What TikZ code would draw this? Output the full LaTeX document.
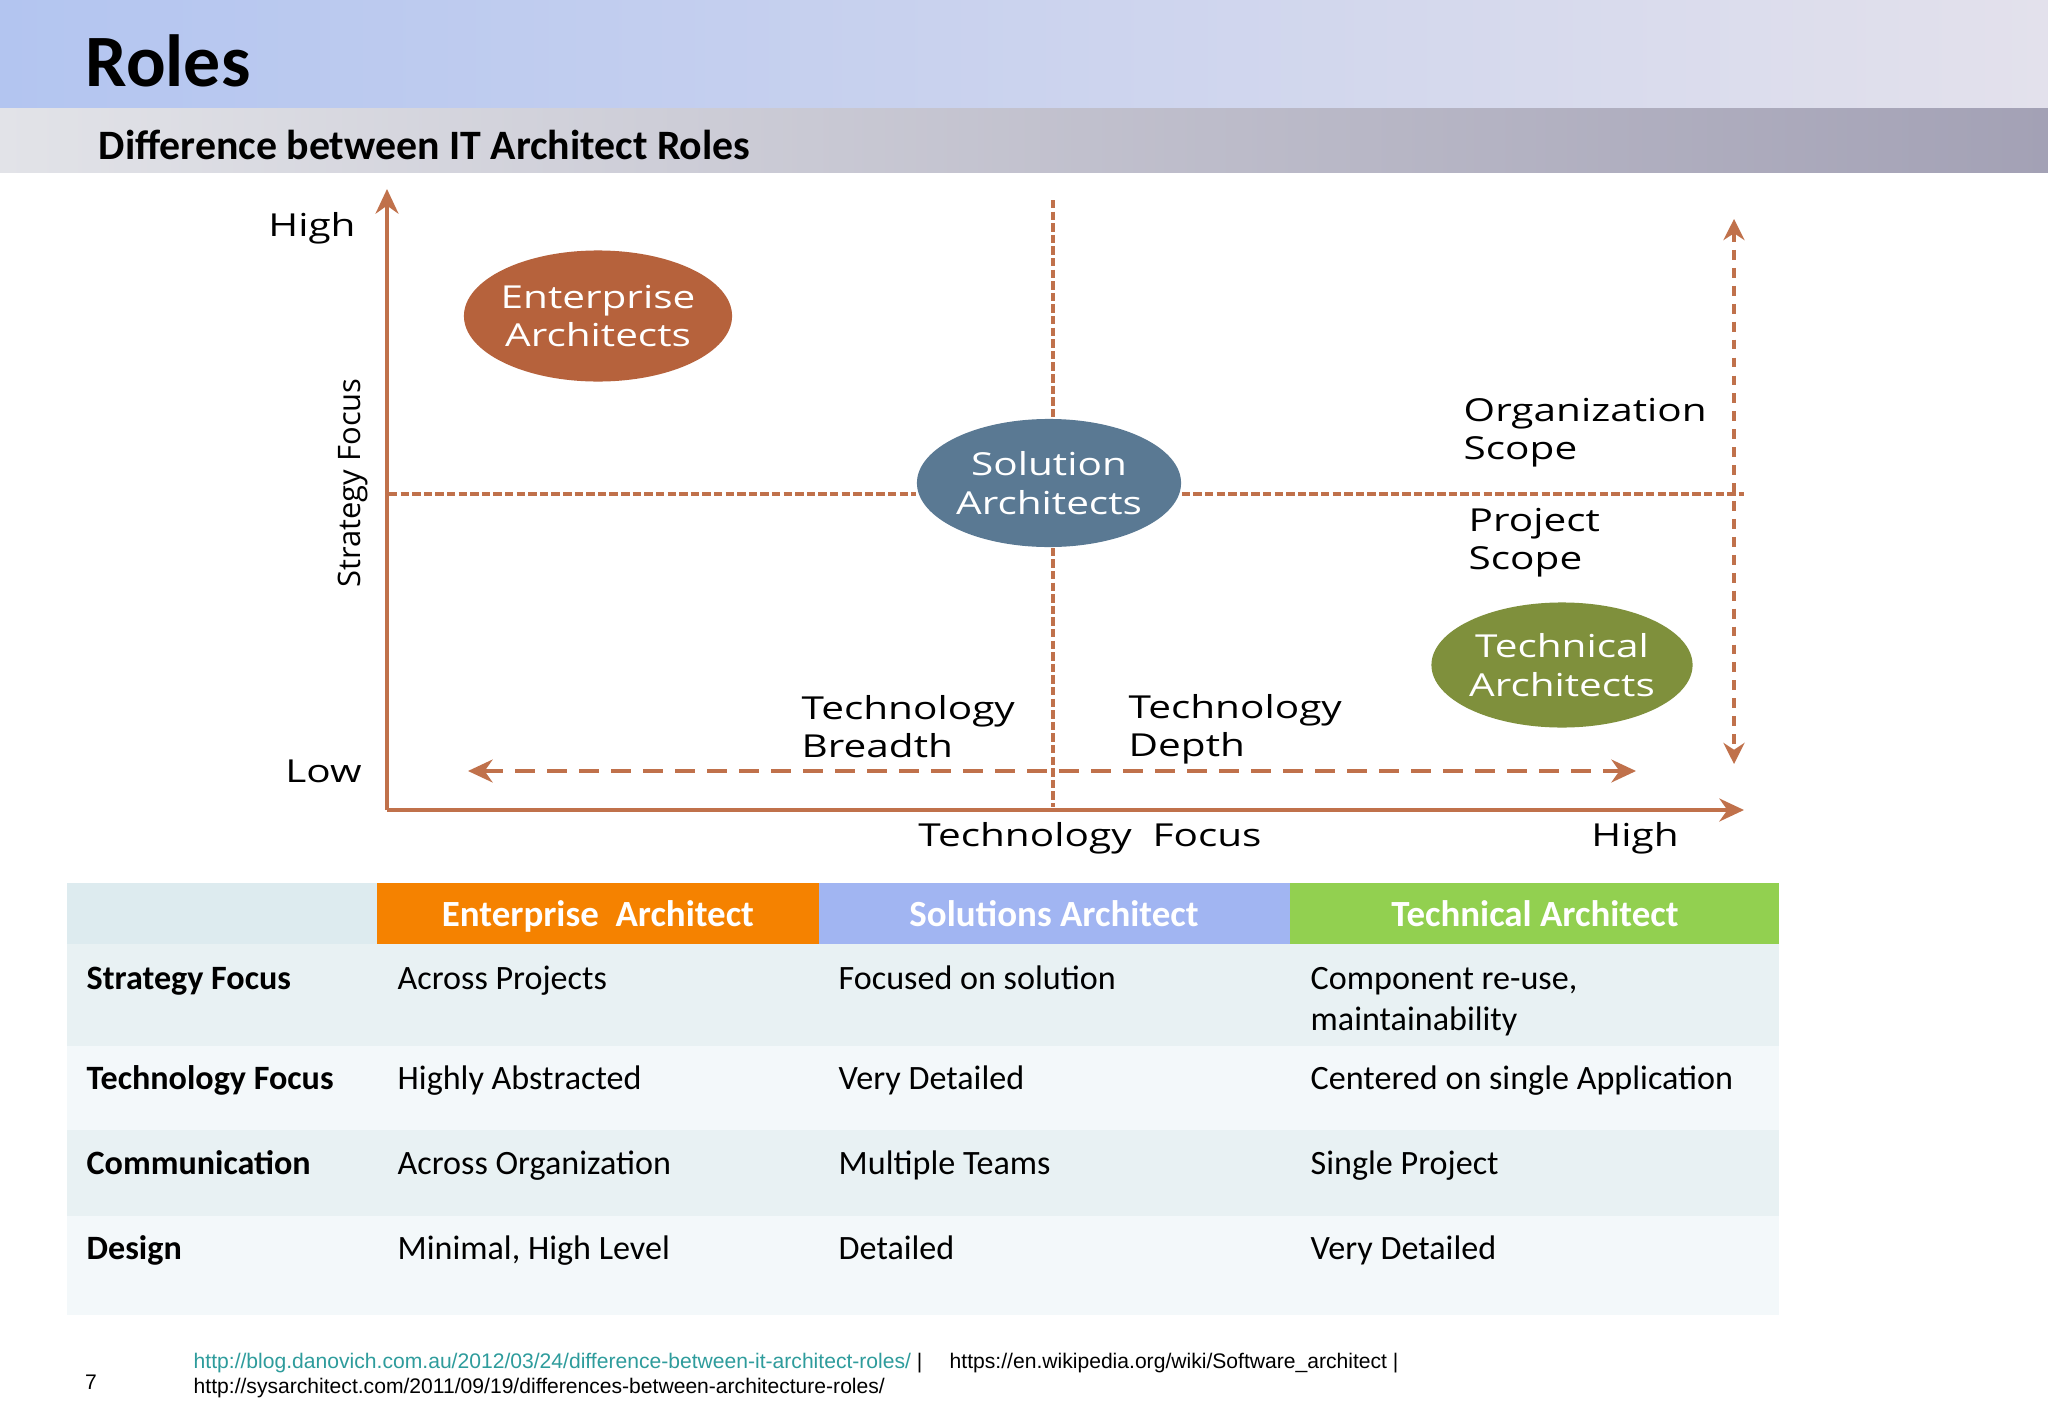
\documentclass[tikz,border=0pt]{standalone}
\usepackage{fontspec}
\setmainfont{Carlito}
\newfontfamily\chartfont[FakeStretch=1.28]{Open Sans}
\newfontfamily\chartplain{Open Sans}
\newfontfamily\reffont{Liberation Sans}
\usetikzlibrary{shapes.geometric,arrows.meta}

\definecolor{axisbrown}{HTML}{C0714B}
\definecolor{entbrown}{HTML}{B6623C}
\definecolor{solslate}{HTML}{5A7993}
\definecolor{tecolive}{HTML}{7F903C}
\definecolor{headorange}{HTML}{F58200}
\definecolor{headblue}{HTML}{A1B5F2}
\definecolor{headgreen}{HTML}{92D050}
\definecolor{cellcorner}{HTML}{DDEBEF}
\definecolor{rowdark}{HTML}{E8F1F3}
\definecolor{rowlight}{HTML}{F3F8FA}
\definecolor{linkteal}{HTML}{2E9C9C}
\definecolor{bandblueL}{HTML}{B3C5F0}
\definecolor{bandblueR}{HTML}{E3E1EC}
\definecolor{bandgrayL}{HTML}{E2E3E8}
\definecolor{bandgrayR}{HTML}{A3A1B5}

\tikzset{
  role/.style={ellipse, fill=#1, text=white, inner xsep=-3pt, inner ysep=0pt,
    font=\chartfont\fontsize{9}{11}\selectfont, align=center},
  lbl/.style={font=\chartfont\fontsize{9}{10.8}\selectfont, align=left},
  axisline/.style={axisbrown, line width=1.15pt, -{Stealth[length=7pt,width=6.5pt]}},
  fineline/.style={axisbrown, line width=0.9pt, dash pattern=on 2.4pt off 0.9pt},
  spanline/.style={axisbrown, line width=1pt, dash pattern=on 5.7pt off 3.4pt,
    {Stealth[length=7pt,width=6.5pt]}-{Stealth[length=7pt,width=6.5pt]}},
  scopeline/.style={axisbrown, line width=1pt, dash pattern=on 2.8pt off 2.3pt,
    {Stealth[length=6pt,width=6pt]}-{Stealth[length=6pt,width=6pt]}},
  headtxt/.style={text=white, font=\fontsize{10.5}{12}\bfseries\selectfont, anchor=base},
  cell/.style={font=\fontsize{9.7}{12}\selectfont, anchor=base west, inner sep=0pt},
  rowhead/.style={cell, font=\fontsize{9.7}{12}\bfseries\selectfont},
  ref/.style={font=\reffont\fontsize{6}{7}\selectfont, anchor=base west, inner sep=0pt}
}

\begin{document}
\begin{tikzpicture}[x=0.01cm,y=-0.01cm]
  \useasboundingbox (0,0) rectangle (2048,1418);
  \fill[white] (0,0) rectangle (2048,1418);
  % Title bands
  \shade[left color=bandblueL, right color=bandblueR] (0,0) rectangle (2048,108);
  \shade[left color=bandgrayL, right color=bandgrayR] (0,108) rectangle (2048,172);
  \node[anchor=base west, inner sep=0pt, font=\fontsize{21}{24}\bfseries\selectfont] (title) at (85,86) {Roles};
  \node[anchor=base west, inner sep=0pt, font=\fontsize{11.9}{14}\bfseries\selectfont] (subtitle) at (98,159) {Difference between IT Architect Roles};

  % Axes
  \coordinate (origin) at (387,810);
  \coordinate (ytop) at (387,189);
  \coordinate (xend) at (1744,810);
  \draw[axisline] (origin) -- (ytop);
  \draw[axisline] (origin) -- (xend);

  % Roles as ellipses
  \node[role=entbrown, minimum width=2.68cm, minimum height=1.31cm] (ent) at (598,316) {Enterprise\\Architects};
  \node[role=solslate, minimum width=2.64cm, minimum height=1.28cm] (sol) at (1049,483) {Solution\\Architects};
  \node[role=tecolive, minimum width=2.61cm, minimum height=1.25cm] (tec) at (1562,665) {Technical\\Architects};

  % Quadrant dividers
  \coordinate (vtop) at (1053,200);
  \coordinate (vbot) at (1053,807);
  \coordinate (hleft) at (389,494);
  \coordinate (hright) at (1744,494);
  \draw[fineline] (vtop) -- (vtop |- sol.north);
  \draw[fineline] (vbot |- sol.south) -- (vbot);
  \draw[fineline] (hleft) -- (hleft -| sol.west);
  \draw[fineline] (hleft -| sol.east) -- (hright);

  % Breadth / depth and scope ranges
  \coordinate (bleft) at (468,771);
  \coordinate (bright) at (1636,771);
  \coordinate (stop) at (1734,219);
  \coordinate (sbot) at (1734,764);
  \draw[spanline] (bleft) -- (bright);
  \draw[scopeline] (stop) -- (sbot);

  % Axis labels
  \node[lbl, anchor=east] (yhigh) at (368,228) {High};
  \node[lbl, anchor=east] (ylow) at (374,771) {Low};
  \node[font=\chartplain\fontsize{8.8}{10}\selectfont, rotate=90] (yname) at (353,483) {Strategy Focus};
  \node[lbl] (xname) at (1090,838) {Technology\ \ Focus};
  \node[lbl] (xhigh) at (1635,838) {High};
  \node[lbl, anchor=west, inner sep=0pt] (orgscope) at (1463,433) {Organization\\Scope};
  \node[lbl, anchor=west, inner sep=0pt] (projscope) at (1468,543) {Project\\Scope};
  \node[lbl, anchor=west, inner sep=0pt] (tbreadth) at (801,727) {Technology\\Breadth};
  \node[lbl, anchor=west, inner sep=0pt] (tdepth) at (1128,729) {Technology\\Depth};

  % Table background
  \fill[cellcorner] (67,883) rectangle (377,944);
  \fill[headorange] (377,883) rectangle (819,944);
  \fill[headblue] (819,883) rectangle (1290,944);
  \fill[headgreen] (1290,883) rectangle (1779,944);
  \fill[rowdark] (67,944) rectangle (1779,1046);
  \fill[rowlight] (67,1046) rectangle (1779,1130);
  \fill[rowdark] (67,1130) rectangle (1779,1216);
  \fill[rowlight] (67,1216) rectangle (1779,1315);

  % Table header
  \node[headtxt] (hdent) at (598,926) {Enterprise\ \ Architect};
  \node[headtxt] (hdsol) at (1054,926) {Solutions Architect};
  \node[headtxt] (hdtec) at (1535,926) {Technical Architect};

  % Table rows
  \node[rowhead] (sf) at (86,989) {Strategy Focus};
  \node[cell] (sfent) at (397,989) {Across Projects};
  \node[cell] (sfsol) at (838,989) {Focused on solution};
  \node[cell] (sftec) at (1310,989) {Component re-use,};
  \node[cell] (sftecb) at (1310,1030) {maintainability};
  \node[rowhead] (tf) at (86,1089) {Technology Focus};
  \node[cell] (tfent) at (397,1089) {Highly Abstracted};
  \node[cell] (tfsol) at (838,1089) {Very Detailed};
  \node[cell] (tftec) at (1310,1089) {Centered on single Application};
  \node[rowhead] (cm) at (86,1174) {Communication};
  \node[cell] (cment) at (397,1174) {Across Organization};
  \node[cell] (cmsol) at (838,1174) {Multiple Teams};
  \node[cell] (cmtec) at (1310,1174) {Single Project};
  \node[rowhead] (ds) at (86,1259) {Design};
  \node[cell] (dsent) at (397,1259) {Minimal, High Level};
  \node[cell] (dssol) at (838,1259) {Detailed};
  \node[cell] (dstec) at (1310,1259) {Very Detailed};

  % Sources
  \node[ref, anchor=center] (page) at (91,1382) {7};
  \node[ref] (srca) at (193,1368) {\textcolor{linkteal}{http://blog.danovich.com.au/2012/03/24/difference-between-it-architect-roles/} |};
  \node[ref] (srcb) at (949,1368) {https://en.wikipedia.org/wiki/Software\_architect |};
  \node[ref] (srcc) at (193,1393) {http://sysarchitect.com/2011/09/19/differences-between-architecture-roles/};
\end{tikzpicture}
\end{document}
